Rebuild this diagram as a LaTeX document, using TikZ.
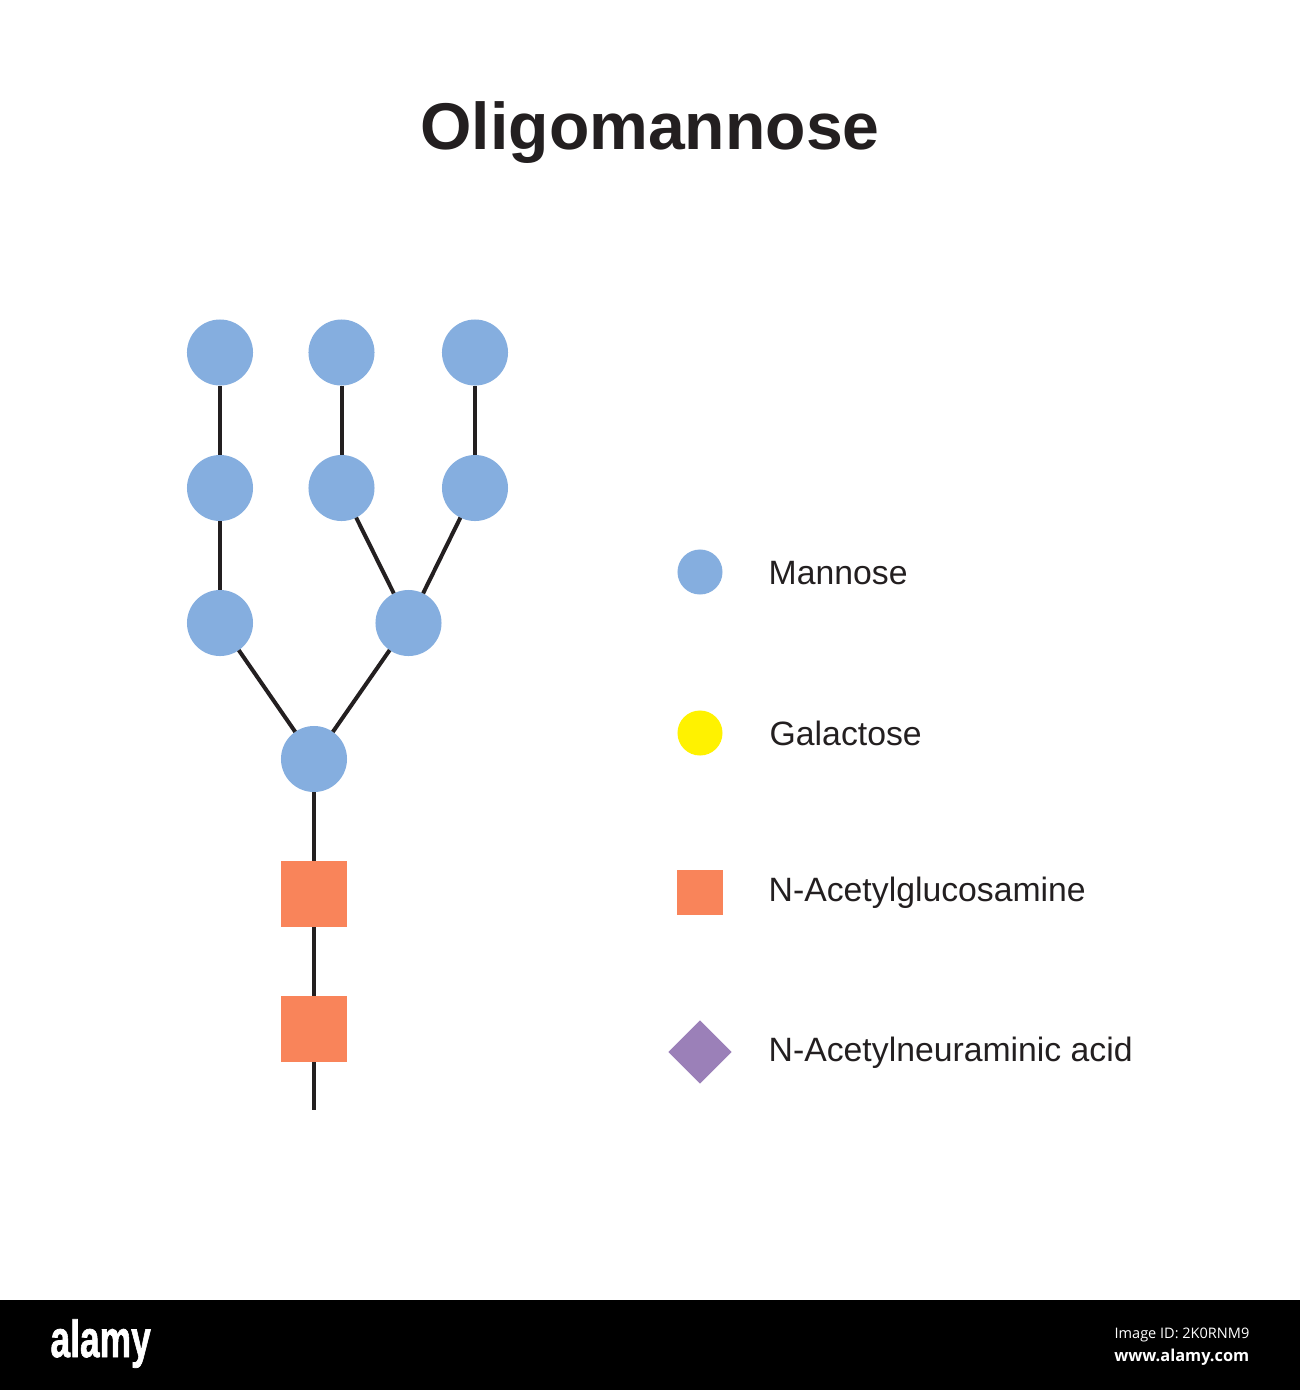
\documentclass[tikz,border=0pt]{standalone}
\usepackage{fontspec}
\setmainfont{Liberation Sans}
\newfontfamily\footfont{Open Sans}
\newfontfamily\logofont[FakeBold=1.5]{Liberation Sans Bold}
\usetikzlibrary{shapes.geometric}
\definecolor{manblue}{HTML}{85AEDF}
\definecolor{galyellow}{HTML}{FFF200}
\definecolor{glcorange}{HTML}{F9845A}
\definecolor{neupurple}{HTML}{9B80B8}
\definecolor{inkblack}{HTML}{231F20}
\tikzset{
	man/.style={circle,fill=manblue,inner sep=0pt,outer sep=0pt,minimum size=0.66cm},
	glc/.style={rectangle,fill=glcorange,inner sep=0pt,outer sep=0pt,minimum size=0.66cm},
	legcirc/.style={circle,inner sep=0pt,minimum size=0.45cm},
	legbox/.style={rectangle,fill=glcorange,inner sep=0pt,minimum size=0.45cm},
	legtext/.style={anchor=base west,inner sep=0pt,text=inkblack,font=\fontsize{9.6pt}{11pt}\selectfont},
	bond/.style={inkblack,line width=0.04cm},
}
\begin{document}
\begin{tikzpicture}[x=0.01cm,y=-0.01cm]
	\useasboundingbox (0,0) rectangle (1300,1390);
	\fill[black] (0,1300) rectangle (1300,1390);
	\node[anchor=base,inner sep=0pt,text=inkblack,font=\bfseries\fontsize{18.8pt}{22pt}\selectfont] (title) at (650,149) {Oligomannose};
	\coordinate (rootend) at (314,1110);
	\node[man] (a1) at (220,352.5) {};
	\node[man] (a2) at (341.5,352.5) {};
	\node[man] (a3) at (475,352.5) {};
	\node[man] (b1) at (220,488) {};
	\node[man] (b2) at (341.5,488) {};
	\node[man] (b3) at (475,488) {};
	\node[man] (c1) at (220,623) {};
	\node[man] (c2) at (408.5,623) {};
	\node[man] (core) at (314,759) {};
	\node[glc] (glc1) at (314,894) {};
	\node[glc] (glc2) at (314,1029) {};
	\draw[bond] (a1)--(b1);
	\draw[bond] (a2)--(b2);
	\draw[bond] (a3)--(b3);
	\draw[bond] (b1)--(c1);
	\draw[bond] (b2)--(c2);
	\draw[bond] (b3)--(c2);
	\draw[bond] (c1)--(core);
	\draw[bond] (c2)--(core);
	\draw[bond] (core)--(glc1);
	\draw[bond] (glc1)--(glc2);
	\draw[bond] (glc2)--(rootend);
	% legend
	\node[legcirc,fill=manblue] (legman) at (700,572) {};
	\node[legcirc,fill=galyellow] (leggal) at (700,733) {};
	\node[legbox] (legglc) at (700,892) {};
	\node[diamond,fill=neupurple,inner sep=0pt,minimum width=0.64cm,minimum height=0.64cm] (legneu) at (700,1052) {};
	\node[legtext] (txtman) at (768,584) {Mannose};
	\node[legtext] (txtgal) at (769,745) {Galactose};
	\node[legtext] (txtglc) at (768,901) {N-Acetylglucosamine};
	\node[legtext] (txtneu) at (768,1061) {N-Acetylneuraminic acid};
	% footer
	\node[anchor=base west,inner sep=0pt,text=white,xscale=0.68,transform shape,font=\logofont\fontsize{14.8pt}{16pt}\selectfont] (logo) at (50,1357) {alamy};
	\node[anchor=base east,inner sep=0pt,text=white,font=\footfont\fontsize{4.13pt}{6pt}\selectfont] (imgid) at (1250,1338) {Image ID: 2K0RNM9};
	\node[anchor=base east,inner sep=0pt,text=white,font=\footfont\bfseries\fontsize{4.66pt}{6pt}\selectfont] (site) at (1250,1361) {www.alamy.com};
\end{tikzpicture}
\end{document}
